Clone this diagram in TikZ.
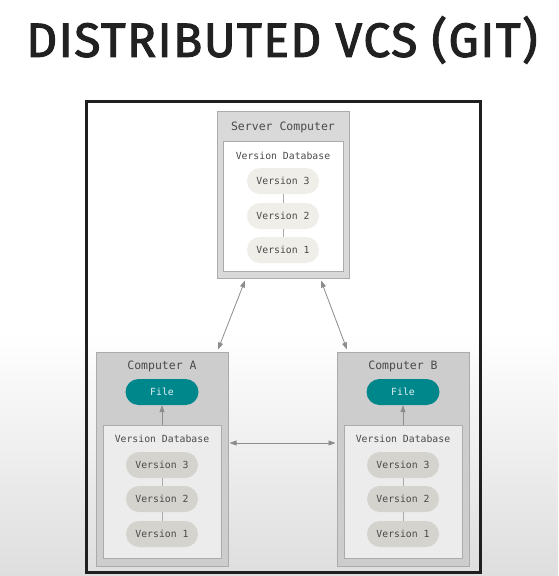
\documentclass[tikz,border=0pt]{standalone}
\usepackage{fontspec}
\setmonofont{DejaVu Sans Mono}
\newfontfamily\titlefont[FakeBold=2.2, LetterSpace=3]{Fira Sans}
\usetikzlibrary{arrows.meta}
\definecolor{txt}{HTML}{4A4A4A}
\definecolor{boxfill}{HTML}{D9D9D9}
\definecolor{boxline}{HTML}{ABABAB}
\definecolor{cboxfill}{HTML}{CDCDCD}
\definecolor{cinner}{HTML}{ECECEC}
\definecolor{spill}{HTML}{EFEEE8}
\definecolor{cpill}{HTML}{D4D3CD}
\definecolor{teal}{HTML}{00878C}
\definecolor{arrowc}{HTML}{8C8C8C}
\begin{document}
\begin{tikzpicture}[x=1pt,y=-1pt,
  outerbox/.style={draw=boxline, line width=1pt, fill=boxfill, inner sep=0pt},
  couterbox/.style={outerbox, fill=cboxfill},
  innerbox/.style={draw=boxline, line width=1pt, fill=white, inner sep=0pt},
  cinnerbox/.style={innerbox, fill=cinner},
  lbl/.style={font=\ttfamily\fontsize{11.5}{12}\selectfont, text=txt, inner sep=0pt},
  dblbl/.style={font=\ttfamily\fontsize{9.8}{11}\selectfont, text=txt, inner sep=0pt},
  pill/.style={fill=spill, rounded corners=13pt, minimum width=72pt, minimum height=26pt, inner sep=0pt,
    font=\ttfamily\fontsize{9.8}{11}\selectfont, text=txt},
  cpillst/.style={pill, fill=cpill},
  filepill/.style={pill, fill=teal, minimum width=73pt, text=white!88!teal},
  vline/.style={draw=boxline, line width=0.8pt},
  arr/.style={draw=arrowc, line width=0.8pt, {Triangle[length=7pt,width=5pt]}-{Triangle[length=7pt,width=5pt]}},
  uarr/.style={draw=arrowc, line width=0.8pt, -{Triangle[length=7pt,width=5pt]}}
]
\useasboundingbox (0,0) rectangle (558,576);
\fill[white] (0,0) rectangle (558,330);
\shade[top color=white, bottom color=black!13] (0,330) rectangle (558,576);

\node[inner sep=0pt, text=black!87] (title) at (282,40)
  {\titlefont\fontsize{48}{48}\selectfont DISTRIBUTED VCS (GIT)};

\draw[line width=3pt, draw=black!88] (86,101) rectangle (480,572);

% Server
\node[outerbox, minimum width=132pt, minimum height=167pt] (server) at (283,194.5) {};
\node[lbl] (stitle) at (283,127) {Server Computer};
\node[innerbox, minimum width=120pt, minimum height=130pt] (sdb) at (283,206) {};
\node[dblbl] (sdbl) at (283,156) {Version Database};
\node[pill] (s3) at (283,181) {Version 3};
\node[pill] (s2) at (283,216) {Version 2};
\node[pill] (s1) at (283,250) {Version 1};
\draw[vline] (s3) -- (s2);
\draw[vline] (s2) -- (s1);

% Computer A
\node[couterbox, minimum width=132pt, minimum height=214pt] (compA) at (162,459) {};
\node[lbl] (atitle) at (162,366) {Computer A};
\node[filepill] (fileA) at (162,392) {File};
\node[cinnerbox, minimum width=118pt, minimum height=133pt] (adb) at (162,491.5) {};
\node[dblbl] (adbl) at (162,439) {Version Database};
\node[cpillst] (a3) at (162,465) {Version 3};
\node[cpillst] (a2) at (162,499) {Version 2};
\node[cpillst] (a1) at (162,534) {Version 1};
\draw[vline] (a3) -- (a2);
\draw[vline] (a2) -- (a1);
\draw[uarr] (adb.north) -- (fileA.south);

% Computer B
\node[couterbox, minimum width=132pt, minimum height=214pt] (compB) at (403,459) {};
\node[lbl] (btitle) at (403,366) {Computer B};
\node[filepill] (fileB) at (403,392) {File};
\node[cinnerbox, minimum width=118pt, minimum height=133pt] (bdb) at (403,491.5) {};
\node[dblbl] (bdbl) at (403,439) {Version Database};
\node[cpillst] (b3) at (403,465) {Version 3};
\node[cpillst] (b2) at (403,499) {Version 2};
\node[cpillst] (b1) at (403,534) {Version 1};
\draw[vline] (b3) -- (b2);
\draw[vline] (b2) -- (b1);
\draw[uarr] (bdb.north) -- (fileB.south);

% connectors
\draw[arr] ([xshift=-38pt,yshift=-2pt]server.south) -- ([xshift=56pt,yshift=2pt]compA.north);
\draw[arr] ([xshift=38pt,yshift=-2pt]server.south) -- ([xshift=-56pt,yshift=2pt]compB.north);
\draw[arr] ([xshift=1pt,yshift=16pt]compA.east) -- ([xshift=-1pt,yshift=16pt]compB.west);
\end{tikzpicture}
\end{document}
